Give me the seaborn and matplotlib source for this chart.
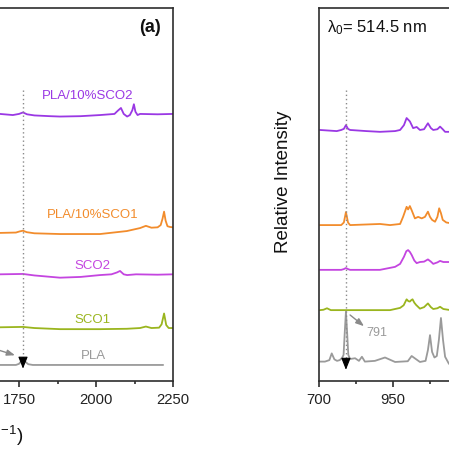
import matplotlib
matplotlib.use("Agg")
import matplotlib.pyplot as plt
import seaborn as sns
import pandas as pd

# ---------------- data: left panel (a) ----------------
l_sco2pla_x = [1688, 1730, 1750, 1763, 1776, 1800, 1850, 1883, 1950, 2013, 2060, 2070, 2081, 2090, 2101, 2110, 2118, 2123, 2128, 2135, 2143, 2200, 2250]
l_sco2pla_y = [71.6, 71.3, 71.6, 72.0, 71.5, 71.2, 71.0, 70.9, 71.0, 71.3, 71.6, 72.4, 73.2, 71.6, 70.9, 71.3, 72.6, 74.2, 72.2, 71.3, 71.6, 71.5, 71.6]

l_sco1pla_x = [1688, 1740, 1752, 1763, 1775, 1800, 1883, 1950, 2013, 2100, 2143, 2162, 2180, 2200, 2210, 2216, 2221, 2226, 2232, 2240, 2250]
l_sco1pla_y = [39.7, 39.8, 40.1, 40.3, 39.9, 39.6, 39.4, 39.4, 39.4, 40.2, 41.0, 41.6, 41.1, 41.2, 41.8, 43.5, 45.4, 43.0, 41.5, 41.3, 41.2]

l_sco2_x = [1688, 1763, 1800, 1883, 1950, 2013, 2050, 2068, 2078, 2090, 2101, 2130, 2200, 2250]
l_sco2_y = [28.6, 28.7, 28.3, 27.7, 27.9, 28.4, 28.6, 29.1, 29.5, 28.6, 28.4, 28.6, 28.5, 28.6]

l_sco1_x = [1688, 1763, 1800, 1883, 2013, 2100, 2143, 2162, 2180, 2205, 2213, 2221, 2228, 2236, 2250]
l_sco1_y = [14.4, 14.5, 14.2, 13.9, 13.9, 14.0, 14.2, 14.6, 14.2, 14.3, 15.2, 18.1, 15.0, 14.2, 14.2]

l_pla_x = [1688, 1740, 1750, 1758, 1763, 1770, 1780, 1795, 1900, 2100, 2218]
l_pla_y = [4.3, 4.3, 4.6, 5.4, 5.8, 5.2, 4.5, 4.3, 4.3, 4.3, 4.3]

# ---------------- data: right panel ----------------
r_sco2pla_x = [703, 760, 775, 784, 791, 798, 805, 860, 906, 957, 974, 987, 996, 1007, 1018, 1030, 1041, 1055, 1068, 1078, 1086, 1100, 1109, 1118, 1126, 1145]
r_sco2pla_y = [67.3, 67.0, 67.3, 67.6, 68.6, 67.6, 67.3, 67.0, 66.8, 67.0, 67.3, 68.6, 70.5, 69.6, 67.8, 68.1, 67.3, 67.5, 69.1, 67.8, 67.3, 67.5, 68.2, 67.5, 66.8, 66.8]

r_sco1pla_x = [703, 775, 784, 791, 798, 805, 906, 940, 974, 984, 996, 1001, 1007, 1013, 1024, 1035, 1047, 1058, 1068, 1075, 1082, 1092, 1100, 1106, 1112, 1118, 1130, 1145]
r_sco1pla_y = [41.8, 41.8, 42.5, 45.3, 42.5, 41.8, 42.1, 41.8, 42.1, 44.0, 46.7, 46.0, 46.9, 45.8, 43.6, 44.0, 43.6, 44.0, 45.4, 44.0, 43.2, 42.7, 44.0, 46.3, 45.0, 43.2, 42.5, 42.3]

r_sco2_x = [703, 775, 784, 791, 798, 805, 906, 957, 974, 987, 995, 1001, 1007, 1013, 1022, 1030, 1041, 1055, 1068, 1078, 1086, 1100, 1109, 1120, 1145]
r_sco2_y = [29.8, 29.8, 30.0, 30.3, 30.0, 29.8, 29.8, 30.6, 31.4, 33.3, 34.8, 35.1, 34.6, 33.8, 32.3, 31.6, 31.9, 32.0, 32.6, 32.0, 31.4, 31.8, 32.2, 31.9, 31.9]

r_sco1_x = [703, 715, 727, 740, 791, 940, 974, 986, 996, 1002, 1007, 1012, 1016, 1022, 1028, 1041, 1055, 1068, 1078, 1086, 1100, 1109, 1120, 1145]
r_sco1_y = [19.0, 19.1, 19.5, 19.0, 19.0, 19.0, 19.6, 20.3, 21.9, 21.4, 21.3, 21.7, 21.9, 21.0, 20.4, 19.4, 19.8, 20.8, 19.8, 19.3, 19.5, 19.9, 19.3, 19.0]

r_pla_x = [703, 720, 735, 743, 752, 761, 770, 778, 783, 787, 791, 795, 799, 805, 822, 835, 845, 855, 889, 923, 957, 1000, 1013, 1041, 1060, 1068, 1075, 1082, 1090, 1098, 1105, 1112, 1119, 1126, 1139, 1145]
r_pla_y = [5.2, 5.2, 5.6, 7.4, 5.8, 5.4, 5.6, 6.2, 7.0, 13.0, 18.6, 13.0, 7.0, 5.9, 6.1, 5.4, 6.5, 5.2, 5.4, 6.3, 5.1, 5.3, 6.7, 5.1, 5.4, 8.3, 12.3, 7.8, 6.3, 6.7, 11.0, 16.9, 11.0, 6.5, 4.6, 4.6]

labels = ["PLA/10%SCO2", "PLA/10%SCO1", "SCO2", "SCO1", "PLA"]
colors = ["#9a38e4", "#f28c2c", "#c445e0", "#9ab51e", "#9a9a9a"]
label_x = [1974, 1990, 1987, 1990, 1993]
label_y = [76.4, 44.5, 30.8, 16.4, 6.7]

left_major_ticks = [1750, 2000, 2250]
left_minor_ticks = [1875, 2125]
right_major_ticks = [700, 950]
right_minor_ticks = [825, 1075]
peak_left = 1763
peak_right = 791

# ---------------- style ----------------
sns.set_theme(style="ticks")
plt.rcParams["font.family"] = ["Liberation Sans", "DejaVu Sans"]
plt.rcParams["mathtext.fontset"] = "custom"
plt.rcParams["mathtext.rm"] = "Liberation Sans"
plt.rcParams["mathtext.it"] = "Liberation Sans:italic"

W = H = 449
fig = plt.figure(figsize=(4.49, 4.49), dpi=100)
fig.patch.set_facecolor("white")

ax_bottom = (449 - 381) / H
ax_height = 373 / H
# left panel: x 750..2250, right spine at px 173
lw_px = 1500 * 0.308
axL = fig.add_axes([(173 - lw_px) / W, ax_bottom, lw_px / W, ax_height])
# right panel: x 700..1700, left spine at px 319
rw_px = 1000 * 0.296
axR = fig.add_axes([319 / W, ax_bottom, rw_px / W, ax_height])

left_series = [(l_sco2pla_x, l_sco2pla_y), (l_sco1pla_x, l_sco1pla_y), (l_sco2_x, l_sco2_y),
               (l_sco1_x, l_sco1_y), (l_pla_x, l_pla_y)]
right_series = [(r_sco2pla_x, r_sco2pla_y), (r_sco1pla_x, r_sco1pla_y), (r_sco2_x, r_sco2_y),
                (r_sco1_x, r_sco1_y), (r_pla_x, r_pla_y)]

for ax, series in ((axL, left_series), (axR, right_series)):
    for (xs, ys), c in zip(series, colors):
        df = pd.DataFrame({"x": xs, "y": ys})
        sns.lineplot(data=df, x="x", y="y", ax=ax, color=c, lw=1.3, sort=False)
    ax.set_ylim(0, 100)
    ax.set_yticks([])
    ax.set_xlabel("")
    ax.set_ylabel("")
    for s in ax.spines.values():
        s.set_color("#2e2e2e")
        s.set_linewidth(1.2)
    ax.tick_params(axis="x", which="major", length=4.5, width=1.2, color="#2e2e2e",
                   labelsize=10.7, pad=4.5, labelcolor="#222222")
    ax.tick_params(axis="x", which="minor", length=2.3, width=1.2, color="#2e2e2e")
    ax.tick_params(axis="y", left=False, right=False)

axL.set_xlim(750, 2250)
axL.set_xticks(left_major_ticks)
axL.set_xticks(left_minor_ticks, minor=True)
axR.set_xlim(700, 1700)
axR.set_xticks(right_major_ticks)
axR.set_xticks(right_minor_ticks, minor=True)

# curve labels on left panel
for t, c, x, y in zip(labels, colors, label_x, label_y):
    axL.text(x, y, t, color=c, fontsize=9.5, ha="center", va="center")

axL.text(2175, 94.9, "(a)", fontsize=13, fontweight="bold", ha="center", va="center", color="#111111")
axR.text(727, 94.6, r"λ$_0$= 514.5 nm", fontsize=12, ha="left", va="center", color="#111111")

# dotted guide lines with arrow heads
for ax, xp, tip in ((axL, peak_left, 3.3), (axR, peak_right, 3.0)):
    ax.plot([xp, xp], [78.0, tip + 2], ls=(0, (1, 2)), color="#8a8a8a", lw=1.0)
    ax.annotate("", xy=(xp, tip), xytext=(xp, tip + 3.0),
                arrowprops=dict(arrowstyle="-|>,head_length=0.6,head_width=0.24",
                                color="black", lw=0.8, shrinkA=0, shrinkB=0))

# grey annotation arrows
axL.annotate("", xy=(1737, 6.9), xytext=(1660, 8.9),
             arrowprops=dict(arrowstyle="-|>,head_length=0.4,head_width=0.15",
                             color="#8a8a8a", lw=1.0, shrinkA=0, shrinkB=0))
axR.annotate("", xy=(852, 14.7), xytext=(805, 17.7),
             arrowprops=dict(arrowstyle="-|>,head_length=0.4,head_width=0.15",
                             color="#8a8a8a", lw=1.0, shrinkA=0, shrinkB=0))
axR.text(896, 12.9, str(peak_right), color="#9a9a9a", fontsize=9, ha="center", va="center")

# axis labels
axL.set_xlabel("Raman shift (cm$^{-1}$)", fontsize=13.5, ha="right", color="#111111")
axL.xaxis.set_label_coords((23 - (173 - lw_px)) / lw_px, -(424 - 381) / 373)
axR.set_ylabel("Relative Intensity", fontsize=13.5, color="#111111")
axR.yaxis.set_label_coords(-(319 - 292) / rw_px, (381 - 182) / 373)

fig.savefig("out.png", dpi=100, facecolor="white")
